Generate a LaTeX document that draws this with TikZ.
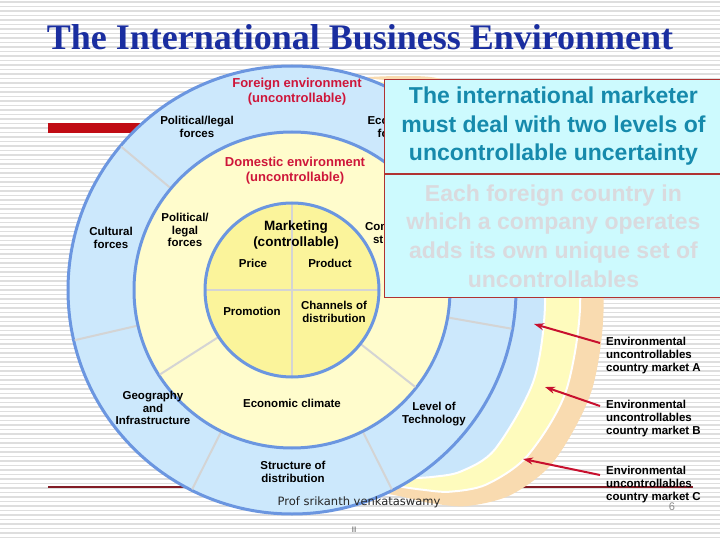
\documentclass[tikz,border=0pt]{standalone}
\usepackage{fontspec}
\setmainfont{Liberation Sans}
\newfontfamily\titlefont{Liberation Serif}
\newfontfamily\proffont{DejaVu Sans}
\usetikzlibrary{arrows.meta,calc}
\definecolor{stripe}{RGB}{222,222,222}
\definecolor{titleblue}{RGB}{26,46,160}
\definecolor{barred}{RGB}{192,12,20}
\definecolor{linered}{RGB}{130,28,38}
\definecolor{peach}{RGB}{249,219,176}
\definecolor{paleyel}{RGB}{254,251,189}
\definecolor{ringA}{RGB}{201,230,251}
\definecolor{fgn}{RGB}{204,232,252}
\definecolor{dom}{RGB}{255,252,204}
\definecolor{mkt}{RGB}{251,244,155}
\definecolor{ringline}{RGB}{107,150,224}
\definecolor{spokegray}{RGB}{212,212,212}
\definecolor{lblred}{RGB}{206,22,58}
\definecolor{arrowred}{RGB}{200,16,46}
\definecolor{boxfill}{RGB}{205,250,254}
\definecolor{boxline}{RGB}{176,50,50}
\definecolor{tealtext}{RGB}{22,138,172}
\definecolor{fainttext}{RGB}{218,218,222}
\begin{document}
\begin{tikzpicture}[x=1pt,y=-1pt,
  lbl/.style={font=\bfseries\fontsize{11.5}{12.5}\selectfont, align=center, inner sep=0pt},
  redlbl/.style={lbl, text=lblred, font=\bfseries\fontsize{13}{15}\selectfont},
  envlbl/.style={font=\bfseries\fontsize{11.5}{13}\selectfont, align=left, inner sep=0pt, anchor=north west},
  spoke/.style={draw=spokegray, line width=2pt},
  ringc/.style={draw=ringline, line width=3pt},
  arr/.style={draw=arrowred, line width=2pt, -{Stealth[length=10pt,width=7pt]}},
  infobox/.style={draw=boxline, line width=0.8pt, fill=boxfill, anchor=north west,
    minimum width=338pt, align=center, inner sep=0pt,
    font=\bfseries\fontsize{23}{28.6}\selectfont}]
\useasboundingbox (0,0) rectangle (720,540);
\fill[white] (0,0) rectangle (720,540);
\foreach \yy in {2,6.5,...,540} \draw[stripe, line width=1.8pt] (0,\yy) -- (720,\yy);

% slide template bars
\fill[barred] (48,123) rectangle (150,133);
\draw[linered, line width=1.2pt] (48,487) -- (693,487);

\coordinate (c) at (292,290);

% outer country rings
\fill[peach, shift={(292,290)}] plot[smooth] coordinates {(-73:222) (-64:238) (-55:258) (-42:282) (-22:304) (0:311) (18:316) (33:313) (43:300) (51:278) (57:254) (62:234) (66:222)} -- (0,0) -- cycle;
\filldraw[fill=paleyel, draw=white, line width=2pt, shift={(292,290)}] plot[smooth] coordinates {(-72:222) (-63:233) (-55:247) (-42:266) (-22:282) (0:288) (20:292) (35:288) (45:275) (52:256) (57:238) (62:222)} -- (0,0) -- cycle;
\filldraw[fill=ringA, draw=white, line width=2pt, shift={(292,290)}] plot[smooth] coordinates {(-71:222) (-62:228) (-54:235) (-40:245) (-20:250) (0:253) (20:258) (38:258) (47:248) (53:234) (58:222)} -- (0,0) -- cycle;

% foreign environment circle
\filldraw[fill=fgn, ringc] (c) circle[radius=224];
\foreach \a in {220,167,116.6,63.4,10}
  \draw[spoke] ($(c)+(\a:159)$) -- ($(c)+(\a:223)$);
% domestic circle
\filldraw[fill=dom, ringc] (c) circle[radius=158];
\foreach \a in {147.4,38.2}
  \draw[spoke] ($(c)+(\a:88)$) -- ($(c)+(\a:157)$);
% marketing circle
\fill[mkt] (c) circle[radius=87];
\draw[spoke] ($(c)+(-87,0)$) -- ($(c)+(87,0)$);
\draw[spoke] ($(c)+(0,-87)$) -- ($(c)+(0,87)$);
\draw[ringc] (c) circle[radius=87];

% labels
\node[redlbl] (fgnlbl) at (297,92) {Foreign environment\\(uncontrollable)};
\node[lbl] (pol1) at (197,127) {Political/legal\\forces};
\node[lbl] (econf) at (395,127) {Economic\\forces};
\node[redlbl] (domlbl) at (295,171) {Domestic environment\\(uncontrollable)};
\node[lbl] (pol2) at (185,230) {Political/\\legal\\forces};
\node[lbl] (cult) at (111,238) {Cultural\\forces};
\node[lbl, font=\bfseries\fontsize{13.5}{16}\selectfont] (mktlbl) at (296,235) {Marketing\\(controllable)};
\node[lbl] (comp) at (398,233) {Competitive\\structure};
\node[lbl] (price) at (253,263) {Price};
\node[lbl] (prod) at (330,263) {Product};
\node[lbl] (promo) at (252,311) {Promotion};
\node[lbl] (chan) at (334,312) {Channels of\\distribution};
\node[lbl] (geo) at (153,408) {Geography\\and\\Infrastructure};
\node[lbl] (eclim) at (292,403) {Economic climate};
\node[lbl] (tech) at (434,414) {Level of\\Technology};
\node[lbl] (struct) at (293,472) {Structure of\\distribution};
\node[inner sep=0pt, font=\proffont\fontsize{11.5}{13}\selectfont, text=black!85] (prof) at (359,502) {Prof srikanth venkataswamy};
\node[inner sep=0pt, font=\fontsize{8}{9}\selectfont, text=black!70] (pg) at (354,530) {II};

% info boxes
\node[infobox, minimum height=94pt, text=tealtext] (box1) at (384,79)
  {The international marketer\\must deal with two levels of\\uncontrollable uncertainty};
\node[infobox, minimum height=123pt, text=fainttext] (box2) at (384,174)
  {Each foreign country in\\which a company operates\\adds its own unique set of\\uncontrollables};

% title
\node[inner sep=0pt, font=\titlefont\bfseries\fontsize{36}{40}\selectfont, text=titleblue] (title) at (360,37) {The International Business Environment};

% country market labels and arrows
\node[envlbl] (envA) at (606,337) {Environmental\\uncontrollables\\country market A};
\node[envlbl] (envB) at (606,400) {Environmental\\uncontrollables\\country market B};
\node[envlbl] (envC) at (606,466) {Environmental\\uncontrollables\\country market C};
\coordinate (tA) at (534,324);
\coordinate (tB) at (545,387);
\coordinate (tC) at (523,459);
\draw[arr] ([shift={(-6pt,-6pt)}]envA.north west) -- (tA);
\draw[arr] ([shift={(-6pt,-6pt)}]envB.north west) -- (tB);
\draw[arr] ([shift={(-6pt,-9pt)}]envC.north west) -- (tC);
\node[inner sep=0pt, font=\fontsize{11}{12}\selectfont, text=black!45] (six) at (672,507) {6};
\end{tikzpicture}
\end{document}
